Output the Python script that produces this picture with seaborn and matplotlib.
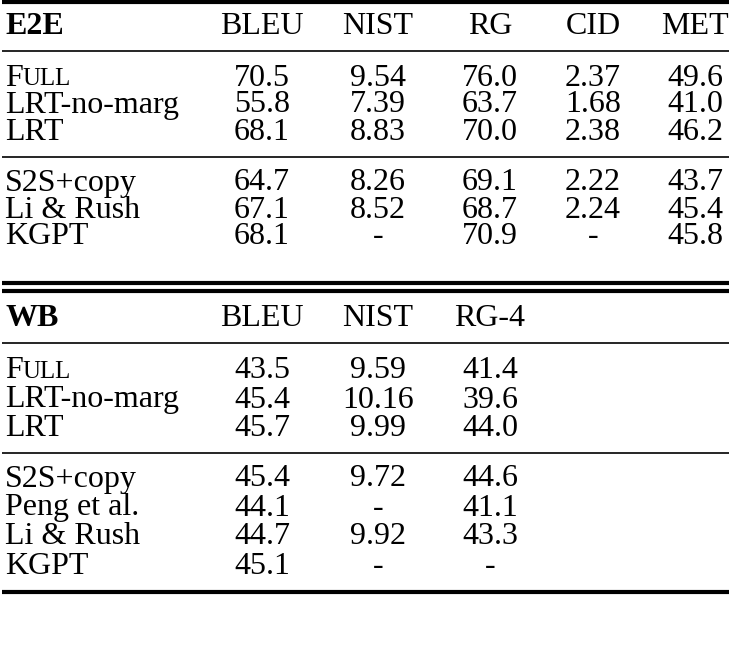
import matplotlib
matplotlib.use("Agg")
import matplotlib.pyplot as plt
import seaborn as sns

sns.set_theme(style="white")
plt.rcParams['font.family'] = ['Liberation Serif', 'DejaVu Serif']
plt.rcParams['text.color'] = 'black'

e2e_cols = ["BLEU", "NIST", "RG", "CID", "MET"]
e2e_rows = ["FULL", "LRT-no-marg", "LRT", "S2S+copy", "Li & Rush", "KGPT"]
e2e_vals = [
    ["70.5", "9.54", "76.0", "2.37", "49.6"],
    ["55.8", "7.39", "63.7", "1.68", "41.0"],
    ["68.1", "8.83", "70.0", "2.38", "46.2"],
    ["64.7", "8.26", "69.1", "2.22", "43.7"],
    ["67.1", "8.52", "68.7", "2.24", "45.4"],
    ["68.1", "-", "70.9", "-", "45.8"],
]
wb_cols = ["BLEU", "NIST", "RG-4"]
wb_rows = ["FULL", "LRT-no-marg", "LRT", "S2S+copy", "Peng et al.", "Li & Rush", "KGPT"]
wb_vals = [
    ["43.5", "9.59", "41.4"],
    ["45.4", "10.16", "39.6"],
    ["45.7", "9.99", "44.0"],
    ["45.4", "9.72", "44.6"],
    ["44.1", "-", "41.1"],
    ["44.7", "9.92", "43.3"],
    ["45.1", "-", "-"],
]

W, H = 731, 654
fig = plt.figure(figsize=(W/100, H/100), dpi=100)
ax = fig.add_axes([0, 0, 1, 1])
ax.set_xlim(0, W); ax.set_ylim(H, 0); ax.axis("off")

FS = 23
col_x = [262, 378, 490, 593, 695]

def hline(y, lw=1.2):
    ax.plot([2, 729], [y, y], color="black", lw=lw, solid_capstyle="butt")

def label(x, y, s, **kw):
    if s == "FULL":
        ax.text(x, y, "F", fontsize=FS, va="center", ha="left", color="black")
        ax.text(x + 17, y + 1, "ULL", fontsize=FS*0.78, va="center", ha="left", color="black")
    else:
        ax.text(x, y, s, fontsize=FS, va="center", ha="left", color="black", **kw)

def cell(x, y, s):
    ax.text(x, y, s, fontsize=FS, va="center", ha="center", color="black")

hline(2, 3)
label(5, 27, "E2E", weight="bold")
for x, c in zip(col_x, e2e_cols):
    cell(x, 27, c)
hline(51)
ys = [78, 105, 132, 183, 210, 237]
hline(157)
for y, r, v in zip(ys, e2e_rows, e2e_vals):
    label(5, y, r)
    for x, s in zip(col_x, v):
        cell(x, y, s)
hline(283, 3); hline(291, 3)
label(5, 318, "WB", weight="bold")
for x, c in zip(col_x, wb_cols):
    cell(x, 318, c)
hline(343)
ys = [371, 400, 429, 479, 508, 537, 566]
hline(453)
for y, r, v in zip(ys, wb_rows, wb_vals):
    label(5, y, r)
    for x, s in zip(col_x, v):
        cell(x, y, s)
hline(592, 3)

fig.savefig("out.png", dpi=100)
